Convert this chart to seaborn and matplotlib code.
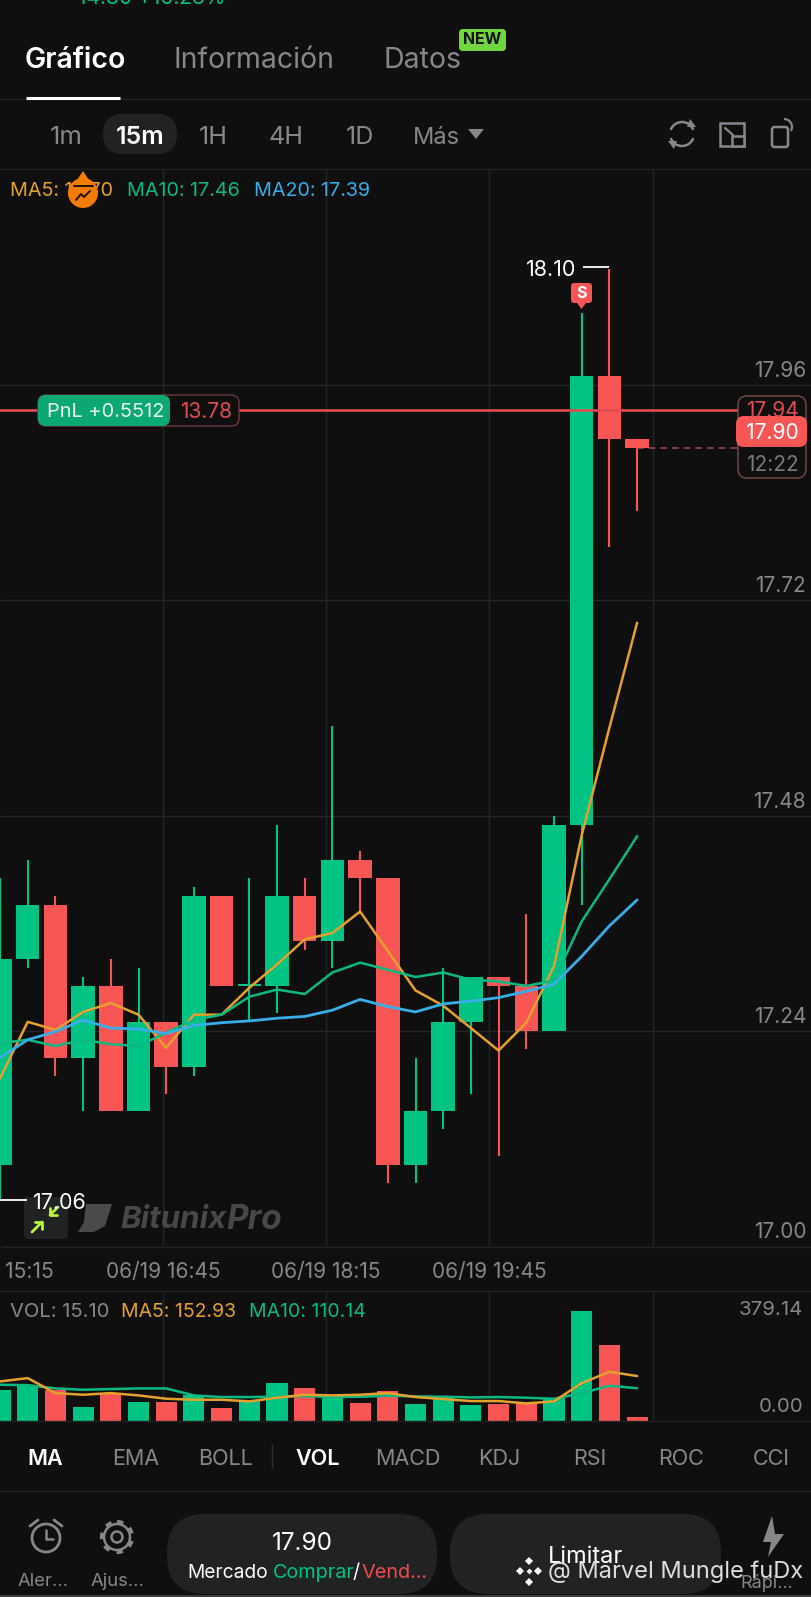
import pandas as pd
import matplotlib
matplotlib.use("Agg")
import matplotlib.pyplot as plt
import seaborn as sns
from matplotlib.patches import Arc, Circle, FancyBboxPatch, Polygon, Rectangle

# --- Candle values ---
opens = [17.09, 17.32, 17.38, 17.21, 17.29, 17.15, 17.25, 17.20, 17.39, 17.29, 17.29, 17.39,
         17.34, 17.43, 17.41, 17.09, 17.15, 17.25, 17.30, 17.29, 17.24, 17.47, 17.97, 17.90]
closes = [17.32, 17.38, 17.21, 17.29, 17.15, 17.25, 17.20, 17.39, 17.29, 17.29, 17.39, 17.34,
          17.43, 17.41, 17.09, 17.15, 17.25, 17.30, 17.29, 17.24, 17.47, 17.97, 17.90, 17.89]
highs = [17.41, 17.43, 17.39, 17.30, 17.32, 17.31, 17.25, 17.40, 17.39, 17.41, 17.47, 17.41,
         17.58, 17.44, 17.41, 17.21, 17.31, 17.30, 17.30, 17.37, 17.48, 18.04, 18.09, 17.90]
lows = [17.05, 17.31, 17.19, 17.15, 17.15, 17.15, 17.17, 17.19, 17.29, 17.25, 17.26, 17.33,
        17.31, 17.37, 17.07, 17.07, 17.13, 17.17, 17.10, 17.22, 17.24, 17.38, 17.78, 17.82]
ma5 = [17.187, 17.250, 17.241, 17.261, 17.271, 17.258, 17.221, 17.258, 17.258, 17.288, 17.314, 17.342,
       17.349, 17.373, 17.329, 17.285, 17.268, 17.243, 17.218, 17.249, 17.312, 17.458, 17.578, 17.695]
ma10 = [17.226, 17.230, 17.223, 17.230, 17.225, 17.223, 17.238, 17.252, 17.258, 17.278, 17.286, 17.281,
        17.305, 17.316, 17.308, 17.300, 17.305, 17.297, 17.295, 17.290, 17.296, 17.362, 17.409, 17.457]
ma20 = [17.210, 17.230, 17.239, 17.252, 17.243, 17.242, 17.237, 17.246, 17.249, 17.251, 17.254, 17.256,
        17.263, 17.275, 17.267, 17.261, 17.270, 17.273, 17.277, 17.284, 17.292, 17.323, 17.357, 17.386]

# --- Volume panel values ---
volumes = [107.7, 124.8, 107.7, 47.0, 96.2, 66.4, 66.4, 90.5, 44.7, 67.6, 129.4, 112.2,
           79.0, 61.9, 104.2, 59.6, 79.0, 55.0, 58.4, 61.9, 79.0, 379.14, 262.3, 15.1]
vol_ma5 = [136.3, 147.8, 96.2, 90.5, 96.2, 88.2, 76.7, 73.3, 73.3, 67.6, 80.2, 90.5,
           88.2, 90.5, 96.2, 82.5, 75.6, 68.7, 68.7, 60.7, 67.6, 130.6, 169.5, 155.0]
vol_ma10 = [124.8, 123.7, 112.2, 107.7, 110.0, 112.2, 112.2, 88.2, 82.5, 82.5, 83.6, 85.9,
            82.5, 83.6, 87.0, 84.8, 83.6, 81.3, 82.5, 80.2, 76.7, 96.2, 121.4, 113.0]

price_ticks = [17.96, 17.72, 17.48, 17.24, 17.00]
time_ticks = [5.88, 11.77, 17.65, 23.57]
time_labels = ["06/19 16:45", "06/19 18:15", "06/19 19:45"]
tab_labels = ["EMA", "BOLL", "MACD", "KDJ", "RSI", "ROC", "CCI"]
interval_labels = ["1H", "4H", "1D"]

BG = "#0f0f10"
PILL = "#202224"
GRID = "#232527"
GREEN = "#00c384"
RED = "#f85555"
ORANGE = "#e6a02c"
MA_GREEN = "#0ab982"
BLUE = "#37aee8"
GREY = "#85878b"
DIM = "#777a7e"
LIME = "#b9f53c"

W, H = 811, 1597

sns.set_theme(style="dark", rc={"axes.facecolor": BG, "figure.facecolor": BG})
plt.rcParams["font.family"] = ["Inter", "DejaVu Sans"]

fig = plt.figure(figsize=(W / 100, H / 100), dpi=100)


def band(top, bottom):
    return [0, 1 - bottom / H, 1, (bottom - top) / H]


# --- Build the candle table ---
df = pd.DataFrame({"idx": range(len(opens)), "open": opens, "close": closes, "high": highs, "low": lows,
                   "ma5": ma5, "ma10": ma10, "ma20": ma20, "vol": volumes,
                   "vol_ma5": vol_ma5, "vol_ma10": vol_ma10})
df["rising"] = df["close"] >= df["open"]
df["base"] = df[["open", "close"]].min(axis=1)
df["body"] = (df["close"] - df["open"]).abs().clip(lower=0.002)

# --- Price panel ---
ax = fig.add_axes(band(169, 1246))
ax.vlines(df["idx"], df["low"], df["high"], colors=[GREEN if r else RED for r in df["rising"]], linewidth=1.5, zorder=2)
for rising, color in [(True, GREEN), (False, RED)]:
    part = df[df["rising"] == rising]
    sns.barplot(data=part, x="idx", y="body", bottom=part["base"], native_scale=True, color=color, saturation=1,
                width=0.85, linewidth=0, errorbar=None, ax=ax, zorder=3)
ax.plot([0, 26.65], [17.932, 17.932], color="#e04c50", linewidth=1.9, zorder=3.5)
ax.plot([23, 26.6], [17.89, 17.89], color="#a04346", linewidth=1.2, linestyle=(0, (4, 3)), zorder=2.5)
sns.lineplot(data=df, x="idx", y="ma5", color=ORANGE, linewidth=1.8, ax=ax, zorder=4)
sns.lineplot(data=df, x="idx", y="ma10", color=MA_GREEN, linewidth=1.8, ax=ax, zorder=4)
sns.lineplot(data=df, x="idx", y="ma20", color=BLUE, linewidth=2.0, ax=ax, zorder=4)
ax.set_xlim(0, W / 27.7)
ax.set_ylim(17.0, 17 + (1246 - 169) / 896.7)
ax.set_xticks(time_ticks)
ax.set_yticks(price_ticks)
ax.set_xticklabels([])
ax.set_yticklabels([])
ax.set_xlabel("")
ax.set_ylabel("")
ax.tick_params(length=0)
ax.grid(True, color=GRID, linewidth=1)
ax.set_axisbelow(True)
sns.despine(ax=ax, left=True, bottom=True)

for tick in price_ticks:
    ax.annotate(f"{tick:.2f}", xy=(1, tick), xycoords=("axes fraction", "data"), xytext=(-3.5, 10),
                textcoords="offset points", ha="right", va="center", color=GREY, fontsize=15)

# --- Volume panel ---
vax = fig.add_axes(band(1291, 1421))
sns.barplot(data=df, x="idx", y="vol", hue="rising", palette={True: GREEN, False: RED}, native_scale=True, dodge=False,
            saturation=1, width=0.76, linewidth=0, errorbar=None, legend=False, ax=vax, zorder=3)
sns.lineplot(data=df, x="idx", y="vol_ma10", color=MA_GREEN, linewidth=1.8, ax=vax, zorder=4)
sns.lineplot(data=df, x="idx", y="vol_ma5", color=ORANGE, linewidth=1.8, ax=vax, zorder=4)
vax.set_xlim(0, W / 27.7)
vax.set_ylim(0, 448)
vax.set_xticks(time_ticks)
vax.set_yticks([])
vax.set_xticklabels([])
vax.set_xlabel("")
vax.set_ylabel("")
vax.tick_params(length=0)
vax.grid(True, axis="x", color=GRID, linewidth=1)
vax.set_axisbelow(True)
sns.despine(ax=vax, left=True, bottom=True)

# --- Screen furniture in pixel coordinates ---
ui = fig.add_axes([0, 0, 1, 1], zorder=5)
ui.set_xlim(0, W)
ui.set_ylim(H, 0)
ui.axis("off")
ui.patch.set_alpha(0)


def label(x, y, s, color="white", size=15, ha="left", weight="normal", **kw):
    return ui.text(x, y + 2, s, color=color, fontsize=size, ha=ha, va="center", fontweight=weight, **kw)


def rounded(x0, y0, x1, y1, r, face="none", edge="none", lw=1.0, z=1):
    ui.add_patch(FancyBboxPatch((x0, y0), x1 - x0, y1 - y0, boxstyle=f"round,pad=0,rounding_size={r}",
                                facecolor=face, edgecolor=edge, linewidth=lw, zorder=z))


def shape(points, color, z=2):
    ui.add_patch(Polygon(points, facecolor=color, edgecolor="none", zorder=z))


def hline(y, x0=0, x1=W, color="#202224", lw=1.0):
    ui.plot([x0, x1], [y, y], color=color, linewidth=lw, solid_capstyle="butt")


# header tabs
label(78, -4, "14.80 +16.28%", color=GREEN, size=15)
label(25, 59, "Gráfico", size=20.5, weight="semibold")
label(173, 59, "Información", color=GREY, size=20.5)
label(384, 59, "Datos", color=GREY, size=20.5)
rounded(459, 29, 506, 51, 4, face="#6fd63f")
label(482.5, 38, "NEW", color="#0e0f10", size=11.5, ha="center", weight="bold")
hline(99)
hline(97.5, 26, 120, color="white", lw=2.2)

# interval row
rounded(103, 114, 177, 154, 20, face=PILL)
label(66, 136, "1m", color=GREY, size=18.5, ha="center")
label(140, 136, "15m", size=18, ha="center", weight="semibold")
for cx, txt in zip([213, 286, 360], interval_labels):
    label(cx, 136, txt, color=GREY, size=18, ha="center")
label(413, 136, "Más", color=GREY, size=17)
shape([[468, 129], [484, 129], [476, 139]], GREY)
hline(169)

# toolbar icons
ui.add_patch(Arc((682, 134), 24, 24, theta1=200, theta2=340, edgecolor=GREY, linewidth=1.8))
ui.add_patch(Arc((682, 134), 24, 24, theta1=20, theta2=160, edgecolor=GREY, linewidth=1.8))
shape([[690, 119], [696, 127], [687, 127]], GREY)
shape([[674, 149], [668, 141], [677, 141]], GREY)
ui.add_patch(Rectangle((720, 123), 24, 23, fill=False, edgecolor=GREY, linewidth=1.8))
ui.add_patch(Rectangle((732, 136), 12, 10, facecolor=BG, edgecolor=GREY, linewidth=1.8))
ui.plot([725, 733], [128, 135], color=GREY, linewidth=1.6)
rounded(772, 127, 788, 147, 2.5, edge=GREY, lw=1.8)
ui.add_patch(Arc((784, 127), 16, 16, theta1=270, theta2=30, edgecolor=GREY, linewidth=1.6))

# MA legend with the floating marker over it
label(10, 189, "MA5: 17.70", color=ORANGE, size=14.2)
label(127, 189, "MA10: 17.46", color=MA_GREEN, size=14.2)
label(254, 189, "MA20: 17.39", color=BLUE, size=14.2)
shape([[83, 171], [71, 189], [95, 189]], "#f57c00", z=3)
ui.add_patch(Circle((83, 193), 15, facecolor="#f57c00", edgecolor="none", zorder=3))
ui.plot([74, 93], [186, 186], color="#1a1208", linewidth=1.4, zorder=4)
ui.plot([76, 81, 84, 90], [200, 194, 197, 191], color="#1a1208", linewidth=1.4, zorder=4)

# high / low callouts
label(526, 268, "18.10", size=15.5)
hline(267, 583, 609, color="white", lw=1.3)
label(33, 1201, "17.06", size=15.5)
hline(1200, 0, 27, color="white", lw=1.3)

# sell marker
rounded(571, 283, 592, 303, 3, face=RED)
shape([[577, 303], [586, 303], [581.5, 309]], RED)
label(581.5, 291, "S", size=11.5, ha="center", weight="bold")

# position tag
rounded(38, 395, 239, 426, 8, face=BG, edge="#6b3a3a", lw=1)
rounded(38, 395, 170, 426, 8, face="#0ba873")
label(47, 410, "PnL +0.5512", color="#e9f5ef", size=14.4)
label(180, 410, "13.78", color="#e04c50", size=15)

# right side price tags
rounded(738, 396, 806, 478, 9, face=BG, edge="#7a4d45", lw=1)
label(772, 409, "17.94", color="#e04c50", size=15, ha="center")
label(772, 463, "12:22", color=DIM, size=15, ha="center")
rounded(736, 416, 807, 447, 8, face=RED)
label(772, 431, "17.90", size=15.2, ha="center")

# expand button and watermark
rounded(24, 1197, 68, 1239, 4, face=PILL)
ui.plot([58, 50], [1207, 1215], color=LIME, linewidth=2)
ui.plot([50, 50, 57], [1208, 1215, 1215], color=LIME, linewidth=2)
ui.plot([32, 42], [1232, 1222], color=LIME, linewidth=2)
ui.plot([35, 42, 42], [1222, 1222, 1229], color=LIME, linewidth=2)
shape([[86, 1204], [112, 1204], [105, 1226], [94, 1232], [78, 1232], [84, 1222]], "#4a4a4a")
label(120, 1218, "Bitunix", color="#484848", size=22.5, weight="bold", style="italic")
label(226, 1218, "Pro", color="#484848", size=24, weight="bold", style="italic")

# time axis
label(5, 1270, "15:15", color=GREY, size=15.2)
for tick, txt in zip(time_ticks, time_labels):
    label(tick * 27.7, 1270, txt, color=GREY, size=15.0, ha="center")
hline(1247)
hline(1291)
hline(1421)

# volume legend
label(10, 1310, "VOL: 15.10", color=GREY, size=14.5)
label(121, 1310, "MA5: 152.93", color=ORANGE, size=14)
label(249, 1310, "MA10: 110.14", color=MA_GREEN, size=14)
label(803, 1308, "379.14", color=GREY, size=14.7, ha="right")
label(803, 1405, "0.00", color=GREY, size=14.7, ha="right")

# indicator tabs
label(45, 1457, "MA", size=15.5, ha="center", weight="semibold")
label(318, 1457, "VOL", size=15.5, ha="center", weight="semibold")
for cx, txt in zip([136, 226, 408, 499, 590, 681, 771], tab_labels):
    label(cx, 1457, txt, color=GREY, size=15.5, ha="center")
ui.plot([272, 272], [1444, 1468], color="#2a2c2e", linewidth=1)
hline(1491)

# bottom bar
ui.add_patch(Circle((46, 1538), 14, fill=False, edgecolor=GREY, linewidth=2))
ui.plot([46, 46, 53], [1530, 1539, 1539], color=GREY, linewidth=1.8)
ui.plot([30, 38], [1526, 1520], color=GREY, linewidth=2)
ui.plot([54, 62], [1520, 1526], color=GREY, linewidth=2)
ui.add_patch(Circle((117, 1537), 13, fill=False, edgecolor=GREY, linewidth=1.8))
ui.add_patch(Circle((117, 1537), 15, fill=False, edgecolor=GREY, linewidth=3, linestyle=(0, (1.5, 1.8))))
ui.add_patch(Circle((117, 1537), 5.5, fill=False, edgecolor=GREY, linewidth=1.8))
label(43, 1580, "Aler...", color=GREY, size=13.3, ha="center")
label(117, 1580, "Ajus...", color=GREY, size=13.3, ha="center")

rounded(167, 1514, 437, 1594, 38, face=PILL)
rounded(450, 1514, 721, 1594, 38, face=PILL)
label(302, 1542, "17.90", size=17.5, ha="center")
label(187, 1571, "Mercado", size=13.8)
label(273, 1571, "Comprar", color=GREEN, size=14.3)
label(353, 1571, "/", size=14.3)
label(362, 1571, "Vend...", color="#f04b4b", size=14.3)
label(585, 1555, "Limitar", size=17, ha="center")
shape([[772, 1516], [763, 1542], [771, 1542], [768, 1557], [784, 1534], [775, 1534]], GREY)
label(767, 1581, "Rápi...", color=GREY, size=13, ha="center")
ui.plot([529, 520, 538, 529], [1561, 1571, 1571, 1582], linestyle="none", marker="D", markersize=4.5, color="white",
        markeredgewidth=0)
ui.plot([529], [1571], linestyle="none", marker="D", markersize=3, color="white", markeredgewidth=0)
label(548, 1570, "@ Marvel Mungle fuDx", color="#dddddd", size=17)
hline(1596, color="#3a3c3e", lw=1.5)

fig.savefig("out.png", dpi=100, facecolor=BG)
